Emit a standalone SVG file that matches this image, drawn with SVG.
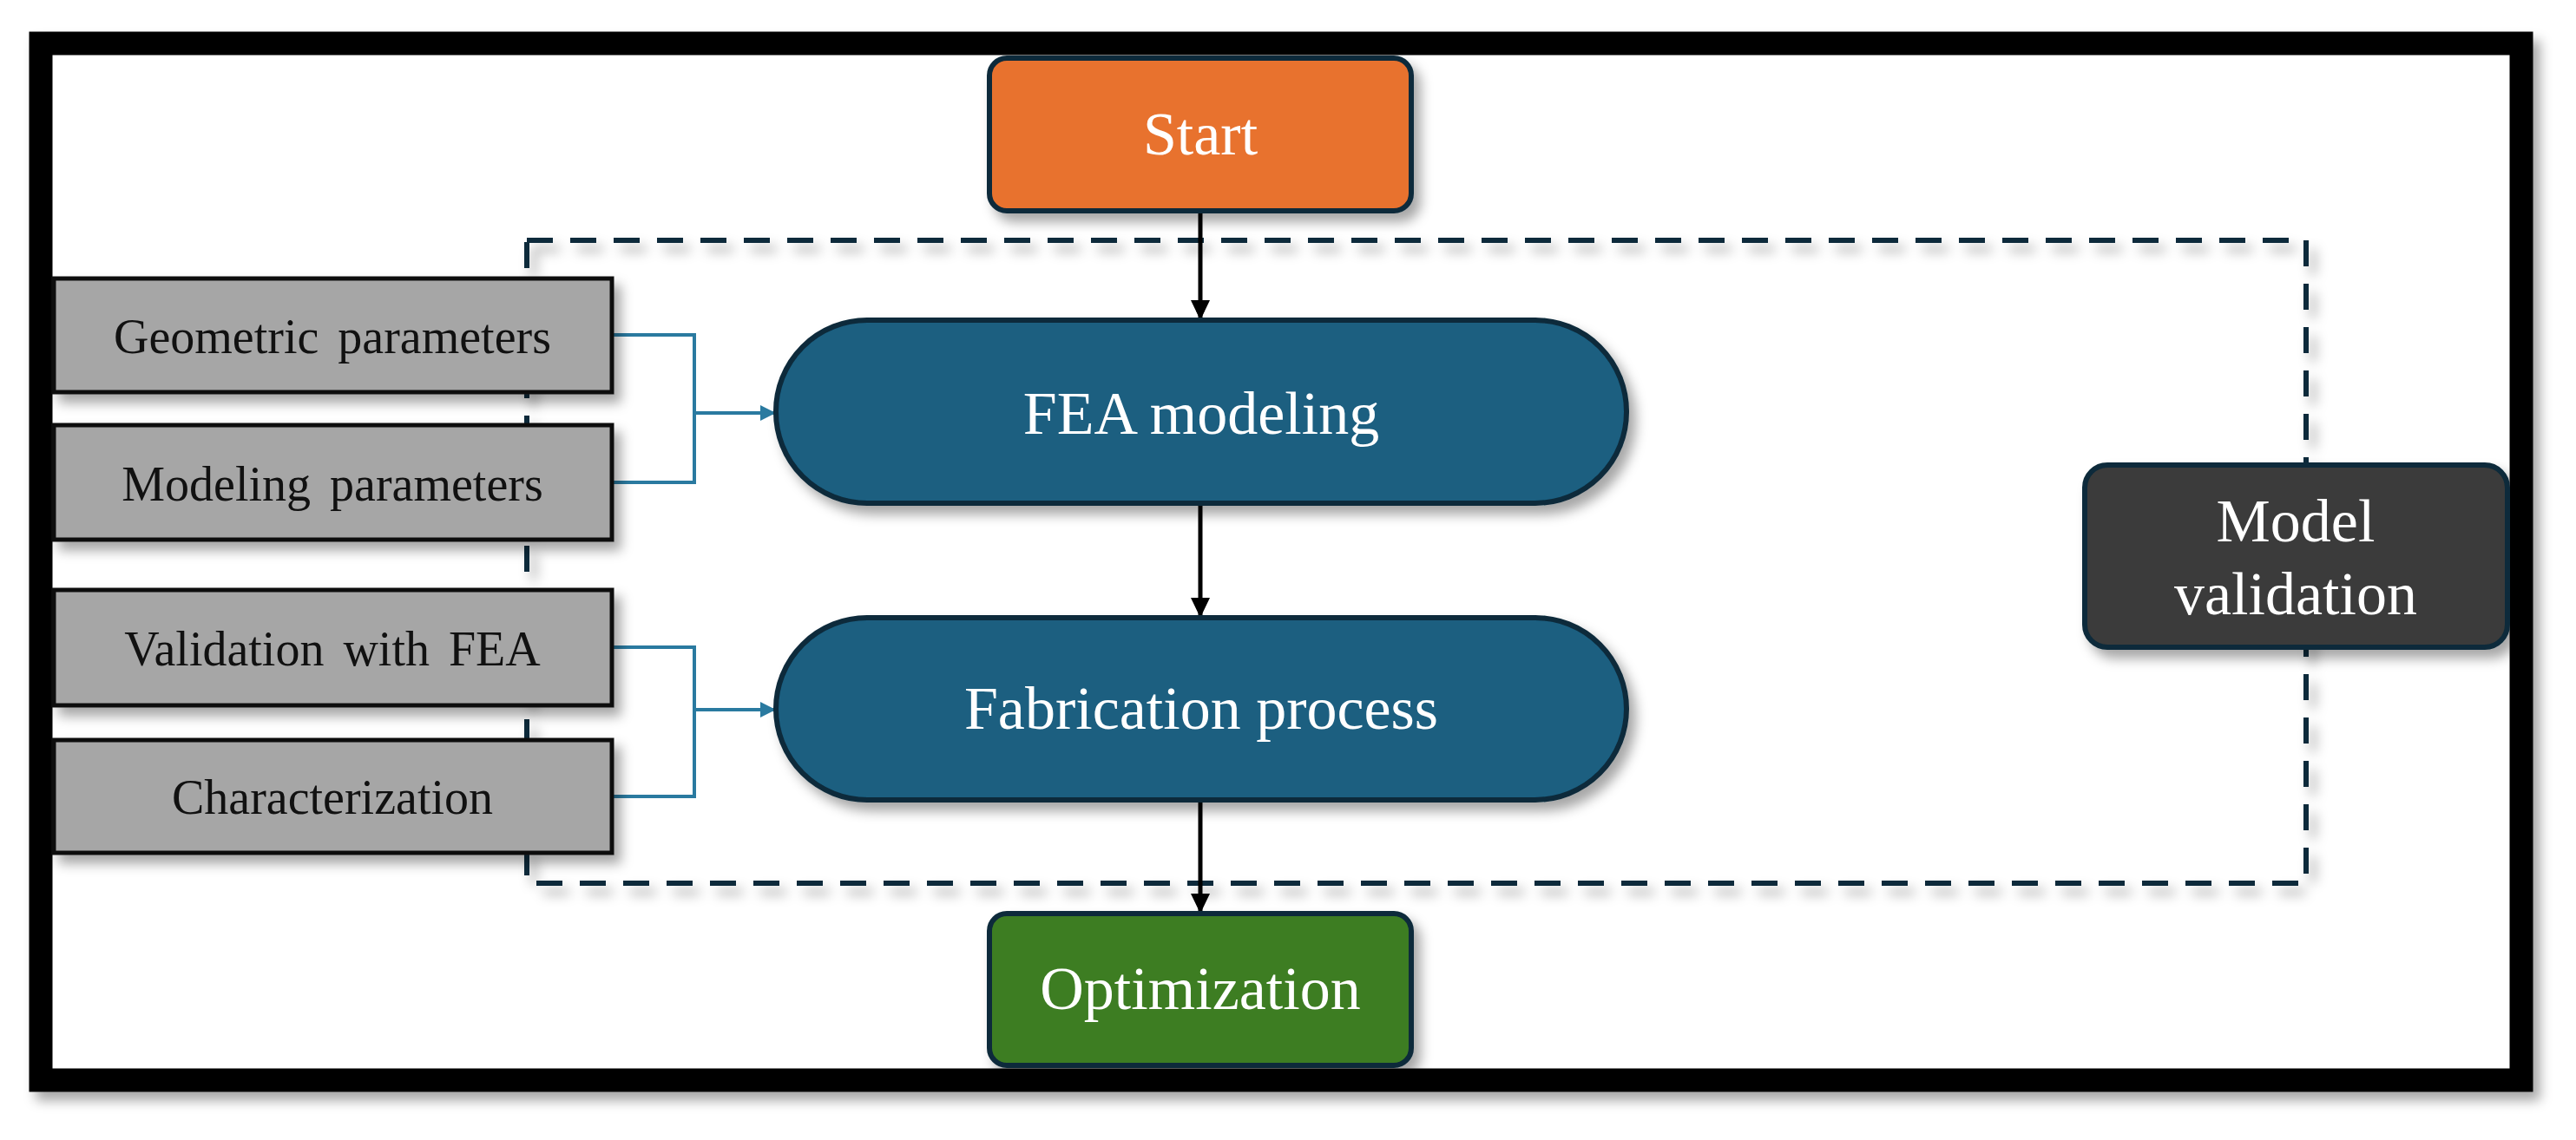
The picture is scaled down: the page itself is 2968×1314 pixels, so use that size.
<svg xmlns="http://www.w3.org/2000/svg" width="2968" height="1314" viewBox="0 0 2968 1314">
<defs>
<filter id="sh" x="-10%" y="-10%" width="130%" height="140%"><feDropShadow dx="8" dy="10" stdDeviation="7" flood-color="#000" flood-opacity="0.35"/></filter>
<marker id="ab" markerWidth="10" markerHeight="10" refX="8" refY="5" orient="auto" markerUnits="userSpaceOnUse" viewBox="0 0 10 10"><path d="M0,0 L10,5 L0,10 z" fill="#000"/></marker>
<marker id="abl" viewBox="0 0 10 10" refX="9" refY="5" markerWidth="18" markerHeight="18" orient="auto" markerUnits="userSpaceOnUse"><path d="M0,0 L10,5 L0,10 z" fill="#2a7aa0"/></marker>
</defs>
<style>
.t{font-family:"Liberation Serif","Times New Roman",serif;text-anchor:middle}
.w{fill:#fff;font-size:70px}
.k{fill:#111;font-size:56px;word-spacing:8px}
.g{fill:#a6a6a6;stroke:#111;stroke-width:5}
.pill{fill:#1a5e80;stroke:#0d2a3a;stroke-width:6}
.blk{stroke:#000;stroke-width:5;fill:none}
.blue{stroke:#2a7aa0;stroke-width:4;fill:none}
</style>
<rect width="2968" height="1314" fill="#fff"/>
<rect x="47" y="50" width="2858" height="1195" fill="#fff" stroke="#000" stroke-width="27" filter="url(#sh)"/>
<g id="group-box"><rect x="607" y="277" width="2050" height="741" fill="none" stroke="#0d2a3a" stroke-width="6" stroke-dasharray="30 20" filter="url(#sh)"/></g>
<g id="connectors">
<line class="blk" x1="1383" y1="243" x2="1383" y2="366" stroke-width="5" marker-end="url(#ab)" style="marker-end:url(#ab)"/>
<line class="blk" x1="1383" y1="580" x2="1383" y2="709"/>
<line class="blk" x1="1383" y1="922" x2="1383" y2="1050"/>
<polyline class="blue" points="705,386 800,386 800,556 705,556"/>
<line class="blue" x1="800" y1="476" x2="892" y2="476" marker-end="url(#abl)"/>
<polyline class="blue" points="705,746 800,746 800,918 705,918"/>
<line class="blue" x1="800" y1="818" x2="892" y2="818" marker-end="url(#abl)"/>
<path d="M1372,346 L1394,346 L1383,369 z M1372,689 L1394,689 L1383,712 z M1372,1030 L1394,1030 L1383,1053 z" fill="#000"/>
</g>
<g id="start"><rect x="1140" y="67" width="486" height="176" rx="20" fill="#e8722f" stroke="#0d2a3a" stroke-width="6" filter="url(#sh)"/><text class="t w" x="1383" y="178">Start</text></g>
<g id="fea"><rect class="pill" x="894" y="369" width="980" height="211" rx="105" filter="url(#sh)"/><text class="t w" x="1384" y="500">FEA modeling</text></g>
<g id="fab"><rect class="pill" x="894" y="712" width="980" height="210" rx="105" filter="url(#sh)"/><text class="t w" x="1384" y="840">Fabrication process</text></g>
<g id="opt"><rect x="1140" y="1053" width="486" height="175" rx="20" fill="#3e7d22" stroke="#0d2a3a" stroke-width="6" filter="url(#sh)"/><text class="t w" x="1383" y="1163">Optimization</text></g>
<g id="mv"><rect x="2402" y="536" width="487" height="210" rx="26" fill="#3a3a3a" stroke="#0d2a3a" stroke-width="6" filter="url(#sh)"/><text class="t w" x="2645" y="624">Model</text><text class="t w" x="2645" y="708">validation</text></g>
<g id="geo"><rect class="g" x="62" y="321" width="643" height="131" filter="url(#sh)"/><text class="t k" x="383" y="407">Geometric parameters</text></g>
<g id="mod"><rect class="g" x="62" y="490" width="643" height="132" filter="url(#sh)"/><text class="t k" x="383" y="577">Modeling parameters</text></g>
<g id="val"><rect class="g" x="62" y="680" width="643" height="133" filter="url(#sh)"/><text class="t k" x="383" y="767">Validation with FEA</text></g>
<g id="char"><rect class="g" x="62" y="853" width="643" height="130" filter="url(#sh)"/><text class="t k" x="383" y="938">Characterization</text></g>
</svg>
